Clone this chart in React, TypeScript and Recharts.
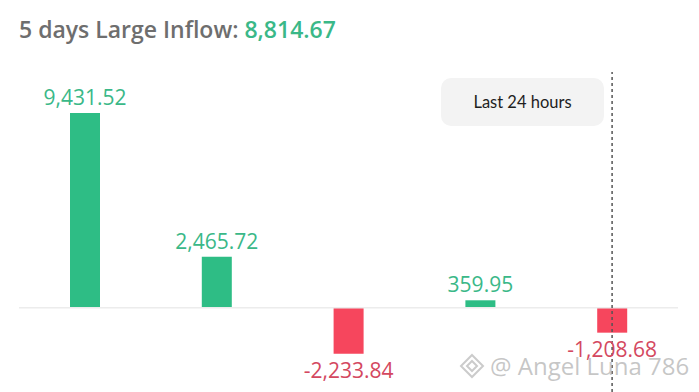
import { BarChart, Bar, XAxis, YAxis, Cell, LabelList, ReferenceLine } from "recharts";

const days = ["D1", "D2", "D3", "D4", "D5"];
const inflows = [9431.52, 2465.72, -2233.84, 359.95, -1208.68];
const totalInflow = 8814.67;
const lastLabel = "Last 24 hours";

const GREEN = "#2ebd85";
const RED = "#f6465d";
const GREEN_TEXT = "#3ab888";
const RED_TEXT = "#d4485f";
const FONT = "'Open Sans', Lato, sans-serif";

const data = days.map((day, i) => ({ day, value: inflows[i] }));

const fmt = (v: number) =>
  v.toLocaleString("en-US", { minimumFractionDigits: 2, maximumFractionDigits: 2 });

function ValueLabel(props: any) {
  const { x, y, width, height, value } = props;
  const positive = value >= 0;
  const cx = x + width / 2;
  // recharts gives negative bars a negative height in some cases
  const top = Math.min(y, y + height);
  const bottom = Math.max(y, y + height);
  return (
    <text
      x={cx}
      y={positive ? top - 8 : bottom + 24}
      textAnchor="middle"
      fontSize={21}
      fontFamily={FONT}
      fill={positive ? GREEN_TEXT : RED_TEXT}
    >
      {fmt(value)}
    </text>
  );
}

export default function App() {
  return (
    <div
      style={{
        position: "absolute",
        left: 0,
        top: 0,
        width: 699,
        height: 392,
        background: "#ffffff",
        overflow: "hidden",
        fontFamily: FONT,
      }}
    >
      <div
        style={{
          position: "absolute",
          left: 19,
          top: 13,
          fontSize: 23,
          fontWeight: 600,
          color: "#6e6e6e",
          whiteSpace: "nowrap",
        }}
      >
        5 days Large Inflow: <span style={{ color: GREEN_TEXT }}>{fmt(totalInflow)}</span>
      </div>

      <div
        style={{
          position: "absolute",
          left: 441,
          top: 78,
          width: 163,
          height: 48,
          borderRadius: 10,
          background: "#f3f3f3",
          display: "flex",
          alignItems: "center",
          justifyContent: "center",
          fontFamily: "Lato, sans-serif",
          fontSize: 16.5,
          color: "#1e1e1e",
        }}
      >
        {lastLabel}
      </div>

      <BarChart
        width={699}
        height={392}
        data={data}
        margin={{ top: 72, right: 21, bottom: 0, left: 19 }}
      >
        <XAxis dataKey="day" hide />
        <YAxis hide domain={[-4083, 11420]} allowDataOverflow />
        <ReferenceLine y={0} stroke="#ececec" strokeWidth={1.5} />
        <Bar dataKey="value" barSize={30} isAnimationActive={false}>
          {data.map((d, i) => (
            <Cell key={i} fill={d.value >= 0 ? GREEN : RED} />
          ))}
          <LabelList dataKey="value" content={<ValueLabel />} />
        </Bar>
        <ReferenceLine
          x={days[days.length - 1]}
          stroke="#555555"
          strokeWidth={1.5}
          strokeDasharray="3 3"
        />
      </BarChart>

      <div
        style={{
          position: "absolute",
          left: 458,
          top: 349,
          display: "flex",
          alignItems: "center",
          gap: 4,
          fontSize: 24,
          color: "rgba(180,180,180,0.75)",
          whiteSpace: "nowrap",
        }}
      >
        <svg width={28} height={28} viewBox="0 0 28 28">
          <g fill="none" stroke="rgba(190,190,190,0.8)" strokeWidth={2}>
            <path d="M14 3 L25 14 L14 25 L3 14 Z" />
            <path d="M14 9 L19 14 L14 19 L9 14 Z" />
          </g>
        </svg>
        <span>@ Angel Luna 786</span>
      </div>
    </div>
  );
}
